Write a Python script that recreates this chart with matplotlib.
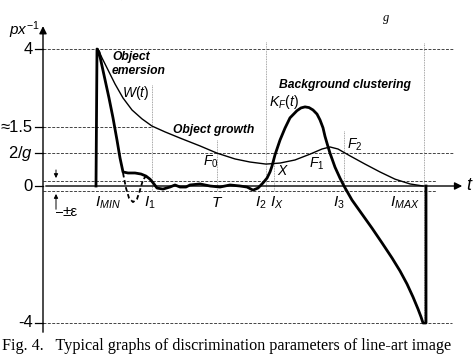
import matplotlib
matplotlib.use('Agg')
import matplotlib.pyplot as plt

plt.rcParams['font.family'] = ['Liberation Sans', 'DejaVu Sans']
plt.rcParams['mathtext.fontset'] = 'custom'
plt.rcParams['mathtext.it'] = 'Liberation Sans:italic'
plt.rcParams['mathtext.rm'] = 'Liberation Sans'
plt.rcParams['mathtext.bf'] = 'Liberation Sans:bold'

# Curva W(t) (linea fina)
w_t = [55, 59, 65, 72, 80, 89, 99, 109, 122, 137, 157, 174, 192, 207, 223, 237,
       252, 267, 279, 287, 295, 307, 322, 337, 352, 367, 380]
w_y = [4.00, 3.74, 3.39, 2.98, 2.57, 2.22, 1.96, 1.75, 1.58, 1.40, 1.17, 0.96, 0.79,
       0.70, 0.64, 0.67, 0.76, 0.93, 1.08, 1.14, 1.08, 0.88, 0.64, 0.41, 0.20, 0.06, 0.00]

# Curva K_F(t) (linea gruesa)
k_t = [53, 54, 56, 61, 66, 70, 74, 77, 80, 85, 92, 98, 103, 107, 111, 114, 120, 127,
       132, 137, 143, 147, 157, 167, 177, 187, 197, 204, 210, 215, 220, 224, 227, 229,
       232, 237, 242, 247, 254, 258, 262, 266, 270, 274, 277, 280, 282, 285, 287, 292,
       297, 301, 309, 319, 329, 339, 349, 357, 364, 370, 375, 378, 380, 383, 383]
k_y = [0.00, 4.00, 3.91, 3.24, 2.57, 1.99, 1.34, 0.82, 0.41, 0.38, 0.38, 0.35, 0.29,
       0.20, 0.06, -0.06, -0.09, -0.03, 0.03, -0.03, -0.03, 0.03, 0.06, 0.00, -0.03,
       0.03, 0.00, -0.03, -0.12, -0.06, 0.09, 0.23, 0.41, 0.58, 0.91, 1.34, 1.69, 1.99,
       2.20, 2.28, 2.31, 2.29, 2.22, 2.10, 1.93, 1.70, 1.45, 1.15, 0.96, 0.55, 0.23,
       0.00, -0.41, -0.82, -1.23, -1.66, -2.10, -2.48, -2.86, -3.24, -3.59, -3.82,
       -4.00, -4.00, 0.00]

# Variante discontinua
d_t = [80, 83, 86, 90, 94, 97, 100, 103]
d_y = [0.38, -0.06, -0.35, -0.47, -0.38, -0.12, 0.18, 0.29]

# Marcas del eje vertical
y_ticks = [4, 1.72, 0.96, 0, -4]
y_labels = ['4', '≈1.5', '2/$g$', '0', '-4']
eps = 0.15

# Puntos del eje t
t_pos = [52, 107, 174, 218, 234, 296, 377]
t_labels = ['$I_{MIN}$', '$I_1$', '$T$', '$I_2$', '$I_X$', '$I_3$', '$I_{MAX}$']
t_align = ['left', 'center', 'center', 'center', 'center', 'center', 'right']

fig = plt.figure(figsize=(4.74, 3.58), dpi=100)
ax = fig.add_axes([0, 0, 1, 1])
ax.set_xlim(-43, 431)
ax.set_ylim(-5.022, 5.431)
ax.axis('off')

grid = dict(color='#444444', lw=0.7, ls=(0, (3, 1.5)))
vgrid = dict(color='#888888', lw=0.6, ls=(0, (1, 1)))

# Lineas de referencia horizontales
ax.plot([0, 410], [4, 4], **grid)
ax.plot([0, 109], [1.72, 1.72], **grid)
ax.plot([0, 411], [0.96, 0.96], **grid)
ax.plot([0, 393], [eps, eps], **grid)
ax.plot([0, 393], [-eps, -eps], **grid)
ax.plot([0, 409], [-4, -4], **grid)

# Lineas verticales
ax.plot([109, 109], [2.95, -0.15], **vgrid)
ax.plot([174, 174], [1.34, -0.15], **vgrid)
ax.plot([223, 223], [4.2, -0.15], **vgrid)
ax.plot([231, 231], [0.8, -0.15], **vgrid)
ax.plot([301, 301], [1.6, -0.15], **vgrid)
ax.plot([381, 381], [4.18, -4.0], **vgrid)

# Ejes
ax.annotate('', xy=(0, 4.75), xytext=(0, -4.35),
            arrowprops=dict(arrowstyle='-|>', lw=1.0, color='k', mutation_scale=11))
ax.annotate('', xy=(422, 0), xytext=(0, 0),
            arrowprops=dict(arrowstyle='-|>', lw=1.0, color='k', mutation_scale=11))
for v, lab in zip(y_ticks, y_labels):
    ax.plot([-8, 0], [v, v], color='k', lw=0.9)
    ax.text(-10, v, lab, ha='right', va='center', fontsize=12)
ax.text(-3, 4.55, '$px^{\\mathregular{-1}}$', ha='right', va='center', fontsize=11)
ax.text(423.5, 0.02, '$t$', ha='left', va='center', fontsize=13)

# Curvas
ax.plot(w_t, w_y, color='k', lw=1.0)
ax.plot(k_t, k_y, color='k', lw=2.0, solid_joinstyle='round')
ax.plot(d_t, d_y, color='k', lw=1.3, ls=(0, (2.5, 1.5)))

# Indicador de epsilon
ax.annotate('', xy=(13, eps), xytext=(13, 0.55),
            arrowprops=dict(arrowstyle='-|>', lw=0.7, color='k', mutation_scale=6))
ax.annotate('', xy=(13, -eps), xytext=(13, -0.76),
            arrowprops=dict(arrowstyle='-|>', lw=0.7, color='k', mutation_scale=6))
ax.plot([13, 19], [-0.76, -0.76], color='k', lw=0.7)
ax.text(20, -0.76, '±ε', ha='left', va='center', fontsize=11)

for x, lab, al in zip(t_pos, t_labels, t_align):
    ax.text(x, -0.5, lab, ha=al, va='center', fontsize=11)

# Rotulos
bi = dict(fontsize=8.7, fontweight='bold', fontstyle='italic')
ax.text(69, 3.77, 'Object', ha='left', va='center', **bi)
ax.text(69, 3.36, 'emersion', ha='left', va='center', **bi)
ax.text(130, 1.64, 'Object growth', ha='left', va='center', **bi)
ax.text(236, 2.95, 'Background clustering', ha='left', va='center', **bi)
ax.text(79, 2.72, '$W(t)$', ha='left', va='center', fontsize=10)
ax.text(226, 2.45, '$K_F(t)$', ha='left', va='center', fontsize=10)
ax.text(160, 0.70, '$F_0$', ha='left', va='center', fontsize=10)
ax.text(266, 0.64, '$F_1$', ha='left', va='center', fontsize=10)
ax.text(304, 1.20, '$F_2$', ha='left', va='center', fontsize=10)
ax.text(234, 0.44, '$X$', ha='left', va='center', fontsize=10)

# Texto cortado arriba y pie de figura
ax.text(-33, 5.64, 'ing parameter ([p]), where p is the parameter {t} of the',
        ha='left', va='center', fontsize=11, family='Liberation Serif')
ax.text(340, 4.9, 'g', ha='left', va='center', fontsize=9, family='Liberation Serif',
        fontstyle='italic')
ax.text(-41, -4.66, 'Fig. 4.   Typical graphs of discrimination parameters of line-art image',
        ha='left', va='center', fontsize=11.6, family='Liberation Serif')

fig.savefig('out.png', dpi=100)
